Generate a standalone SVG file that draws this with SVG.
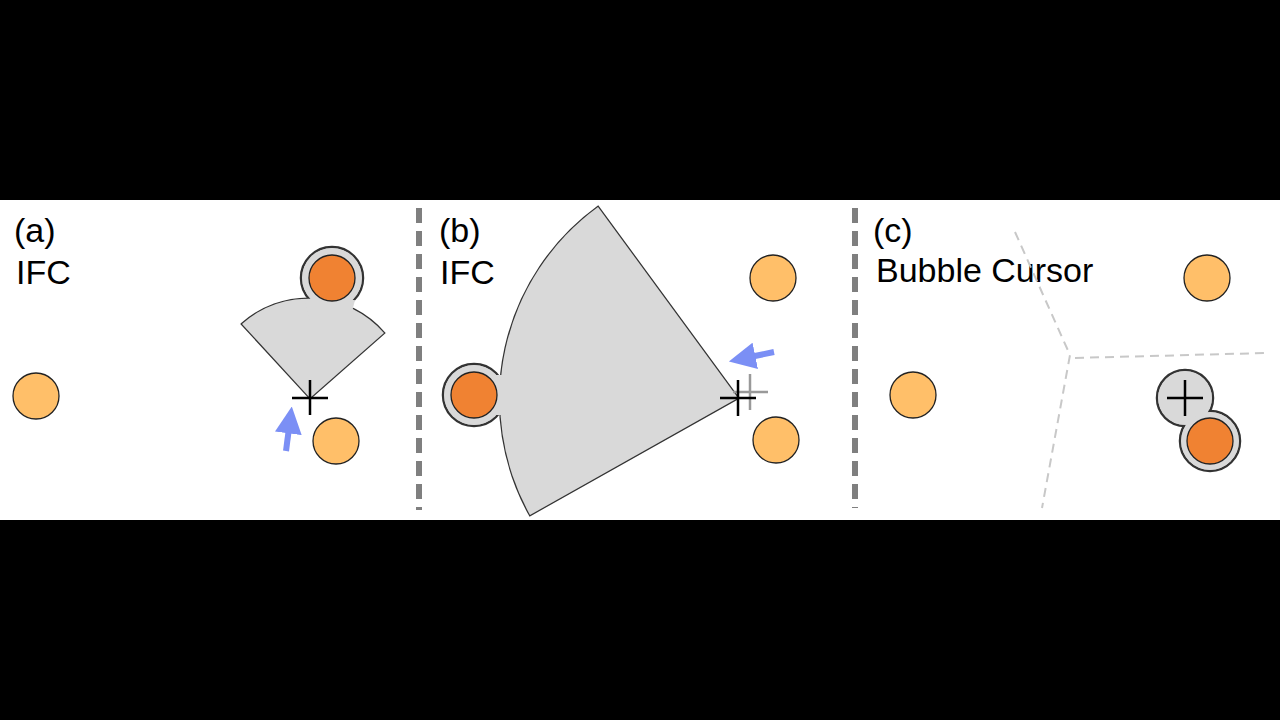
<svg xmlns="http://www.w3.org/2000/svg" width="1280" height="720" viewBox="0 0 1280 720">
<style>
.t{font-family:"Liberation Sans",Arial,sans-serif;font-size:34px;fill:#000}
.tg{fill:#ffbf69;stroke:#222;stroke-width:1.3}
.sel{fill:#f08232;stroke:#222;stroke-width:1.3}
.gs{fill:#d9d9d9;stroke:#333;stroke-width:2.5}
.gf{fill:#d9d9d9;stroke:none}
.sep{stroke:#7f7f7f;stroke-width:6;stroke-dasharray:15,8}
.vor{stroke:#c8c8c8;stroke-width:2;stroke-dasharray:9,6;fill:none}
.cr{stroke:#000;stroke-width:2.5}
.arw{stroke:#7b8ff5;stroke-width:6}
</style>
<defs>
<marker id="ah" viewBox="0 0 10 10" refX="2" refY="5" markerWidth="4.5" markerHeight="4.5" orient="auto"><path d="M0,0 L10,5 L0,10 Z" fill="#7b8ff5"/></marker>
</defs>
<rect width="1280" height="720" fill="#000"/>
<rect x="0" y="200" width="1280" height="320" fill="#fff"/>
<g id="labels">
<text class="t" x="14" y="242">(a)</text>
<text class="t" x="16" y="284">IFC</text>
<text class="t" x="439" y="242">(b)</text>
<text class="t" x="440" y="284">IFC</text>
<text class="t" x="873" y="242">(c)</text>
<text class="t" x="876" y="282">Bubble Cursor</text>
</g>
<g id="separators">
<line class="sep" x1="419" y1="208" x2="419" y2="510"/>
<line class="sep" x1="855" y1="208" x2="855" y2="508"/>
</g>
<g id="panel-a">
<path class="gs" d="M310,398 L242,324 A100,100 0 0,1 384,333 Z"/>
<circle class="gs" cx="332" cy="278" r="31"/>
<path class="gf" d="M310,398 L242,324 A100,100 0 0,1 384,333 Z"/>
<circle class="gf" cx="332" cy="278" r="30"/>
<path class="gf" d="M305,300 L355,300 L350,320 L310,320 Z"/>
<circle class="sel" cx="332" cy="278" r="23"/>
<circle class="tg" cx="36" cy="396" r="23"/>
<circle class="tg" cx="336" cy="441" r="23"/>
<line class="cr" x1="292" y1="398" x2="328" y2="398"/>
<line class="cr" x1="310" y1="380" x2="310" y2="415"/>
<line class="arw" x1="286" y1="451" x2="289" y2="428" marker-end="url(#ah)"/>
</g>
<g id="panel-b">
<path class="gs" d="M738,398 L598,207 A238,238 0 0,0 530,515 Z"/>
<circle class="gs" cx="474" cy="395" r="31"/>
<path class="gf" d="M738,398 L598,207 A238,238 0 0,0 530,515 Z"/>
<circle class="gf" cx="474" cy="395" r="30"/>
<path class="gf" d="M490,375 L505,375 L505,415 L490,415 Z"/>
<circle class="sel" cx="474" cy="395" r="23"/>
<circle class="tg" cx="773" cy="278" r="23"/>
<circle class="tg" cx="776" cy="440" r="23"/>
<line x1="733" y1="392" x2="768" y2="392" stroke="#999" stroke-width="2.5"/>
<line x1="750" y1="374" x2="750" y2="410" stroke="#999" stroke-width="2.5"/>
<line class="cr" x1="720" y1="398" x2="756" y2="398"/>
<line class="cr" x1="738" y1="380" x2="738" y2="416"/>
<line class="arw" x1="774" y1="352" x2="750" y2="357" marker-end="url(#ah)"/>
</g>
<g id="panel-c">
<path class="vor" d="M1015,232 L1070,355 L1042,508 M1075,358 L1265,353"/>
<circle class="gs" cx="1185" cy="398" r="28"/>
<circle class="gs" cx="1210" cy="441" r="30"/>
<circle class="gf" cx="1185" cy="398" r="27"/>
<circle class="gf" cx="1210" cy="441" r="29"/>
<circle class="tg" cx="1207" cy="278" r="23"/>
<circle class="tg" cx="913" cy="395" r="23"/>
<circle class="sel" cx="1210" cy="441" r="23"/>
<line class="cr" x1="1167" y1="398" x2="1203" y2="398"/>
<line class="cr" x1="1185" y1="380" x2="1185" y2="416"/>
</g>
</svg>
